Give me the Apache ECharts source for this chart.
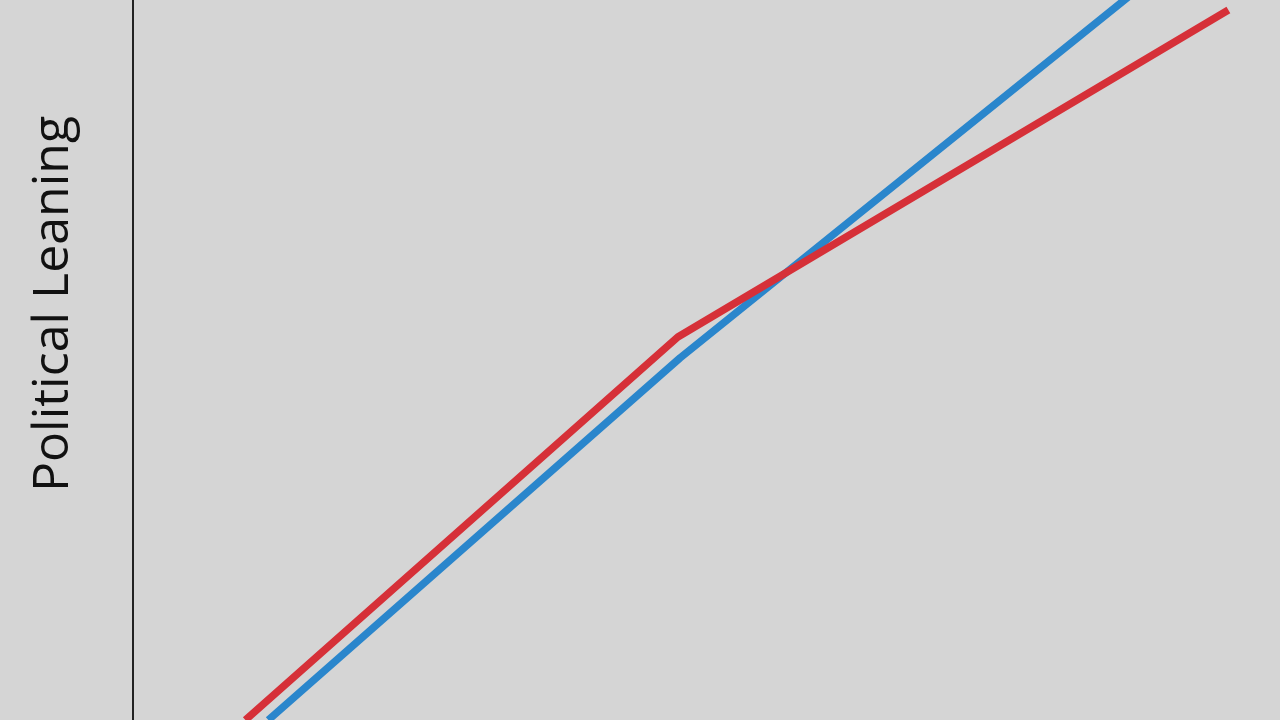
<!DOCTYPE html>
<html>
<head>
<meta charset="utf-8">
<script src="https://cdn.jsdelivr.net/npm/echarts@6/dist/echarts.min.js"></script>
<style>html,body{margin:0;padding:0;background:#d5d5d5;}#c{width:1280px;height:720px;}</style>
</head>
<body>
<div id="c"></div>
<script>
const yAxisTitle = "Political Leaning";
const blueSeries = [[11.8, 0], [47.7, 50.3], [88.0, 102.0]];
const redSeries = [[9.8, 0], [47.5, 53.2], [95.5, 98.6]];

const chart = echarts.init(document.getElementById('c'));
chart.setOption({
  backgroundColor: '#d5d5d5',
  animation: false,
  grid: { left: 133, right: 0, top: 0, bottom: 0 },
  xAxis: { type: 'value', min: 0, max: 100, show: false },
  yAxis: {
    type: 'value', min: 0, max: 100,
    axisLine: { show: true, lineStyle: { color: '#222', width: 2 } },
    axisTick: { show: false }, axisLabel: { show: false }, splitLine: { show: false }
  },
  graphic: [{
    type: 'text', rotation: Math.PI / 2,
    x: 54, y: 304,
    style: { text: yAxisTitle, font: '50px "Open Sans"', fill: '#111', align: 'center', verticalAlign: 'middle' }
  }],
  series: [
    { type: 'line', data: blueSeries, showSymbol: false, clip: true, lineStyle: { color: '#2a86cc', width: 7.5 } },
    { type: 'line', data: redSeries, showSymbol: false, clip: true, lineStyle: { color: '#d63038', width: 7.5 } }
  ]
});
</script>
</body>
</html>
